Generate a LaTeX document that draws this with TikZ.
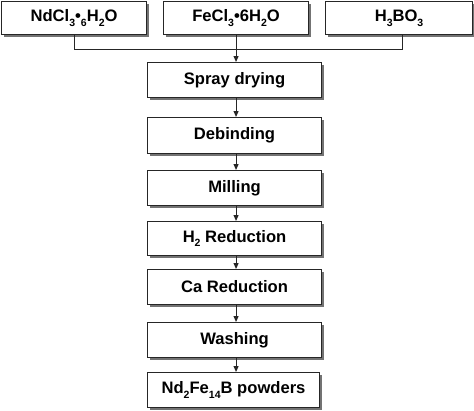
\documentclass[tikz,border=0pt]{standalone}
\usepackage{fontspec}
\setmainfont{Liberation Sans}
\usetikzlibrary{shadows,arrows.meta}
\newcommand{\sbs}[1]{\raisebox{-0.28em}{\fontsize{10.5}{10.5}\selectfont #1}}
\begin{document}
\begin{tikzpicture}[x=1pt,y=-1pt,
  procbox/.style={draw=black!85,line width=1.1pt,fill=white,
    drop shadow={shadow xshift=2.8pt,shadow yshift=-2.8pt,fill=black!55,opacity=1},
    font=\fontsize{16.6}{18}\selectfont\bfseries,inner sep=0pt,anchor=north west},
  link/.style={draw=black!85,line width=1pt},
  arr/.style={link,-{Triangle[length=6pt,width=5pt]}}]
\useasboundingbox (0,0) rectangle (474,410);
% top boxes
\node[procbox,minimum width=145pt,minimum height=33pt] (nd) at (1,1) {NdCl\sbs{3}•\sbs{6}H\sbs{2}O};
\node[procbox,minimum width=145pt,minimum height=33pt] (fe) at (163,1) {FeCl\sbs{3}•6H\sbs{2}O};
\node[procbox,minimum width=147pt,minimum height=33pt] (hb) at (325,1) {H\sbs{3}BO\sbs{3}};
% process boxes
\node[procbox,minimum width=174pt,minimum height=35pt] (sd) at (147,62) {Spray drying};
\node[procbox,minimum width=174pt,minimum height=36pt] (db) at (147,117) {Debinding};
\node[procbox,minimum width=174pt,minimum height=35pt] (ml) at (147,170) {Milling};
\node[procbox,minimum width=174pt,minimum height=34pt] (h2) at (147,221) {H\sbs{2} Reduction};
\node[procbox,minimum width=174pt,minimum height=35pt] (ca) at (147,269) {Ca Reduction};
\node[procbox,minimum width=174pt,minimum height=35pt] (wa) at (147,322) {Washing};
\node[procbox,minimum width=172pt,minimum height=35pt] (nf) at (147,372) {Nd\sbs{2}Fe\sbs{14}B powders};
% connectors
\coordinate (jl) at (nd.south |- 0,49);
\coordinate (jm) at (fe.south |- 0,49);
\coordinate (hbd) at ([xshift=3.5pt]hb.south);
\coordinate (jr) at (hbd |- 0,49);
\draw[link] (nd.south) -- (jl) -- (jr) -- (hbd);
\draw[arr] (fe.south) -- (sd.north -| fe.south);
\draw[arr] (sd.south -| fe.south) -- (db.north -| fe.south);
\draw[arr] (db.south -| fe.south) -- (ml.north -| fe.south);
\draw[arr] (ml.south -| fe.south) -- (h2.north -| fe.south);
\draw[arr] (h2.south -| fe.south) -- (ca.north -| fe.south);
\draw[arr] (ca.south -| fe.south) -- (wa.north -| fe.south);
\draw[arr] (wa.south -| fe.south) -- (nf.north -| fe.south);
\end{tikzpicture}
\end{document}
